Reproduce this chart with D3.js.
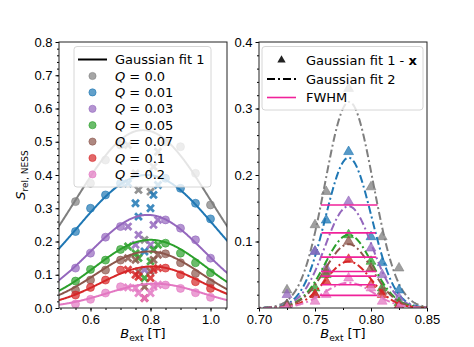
<!DOCTYPE html>
<html>
<head>
<meta charset="utf-8">
<script src="https://cdn.jsdelivr.net/npm/d3@7"></script>
<style>
  body { margin: 0; background: #fff; }
  svg { display: block; font-family: "DejaVu Sans", sans-serif; }
</style>
</head>
<body>
<div id="chart"></div>
<script>
/* Series labels and colours */
const qLabels = ["0.0", "0.01", "0.03", "0.05", "0.07", "0.1", "0.2"];
const colors = ["#7f7f7f", "#1f77b4", "#9467bd", "#2ca02c", "#8c564b", "#d62728", "#e377c2"];

/* Gaussian fit 1 parameters per Q: amplitude, centre, sigma */
const fit1Amp   = [0.535, 0.400, 0.280, 0.205, 0.170, 0.125, 0.073];
const fit1Mu    = [0.775, 0.787, 0.790, 0.800, 0.795, 0.805, 0.815];
const fit1Sigma = [0.225, 0.230, 0.190, 0.184, 0.175, 0.170, 0.160];

/* Measured points used for fit 1 (circles) */
const fitX = [0.55, 0.60, 0.65, 0.70, 0.85, 0.90, 0.95, 1.00];
const fitY = [
  [0.320, 0.375, 0.445, 0.490, 0.500, 0.485, 0.405, 0.310],
  [0.230, 0.300, 0.340, 0.375, 0.390, 0.360, 0.315, 0.268],
  [0.120, 0.165, 0.213, 0.245, 0.265, 0.240, 0.205, 0.150],
  [0.081, 0.116, 0.144, 0.176, 0.195, 0.165, 0.136, 0.106],
  [0.054, 0.084, 0.114, 0.144, 0.163, 0.136, 0.104, 0.076],
  [0.039, 0.062, 0.084, 0.114, 0.120, 0.100, 0.079, 0.059],
  [0.012, 0.026, 0.045, 0.064, 0.069, 0.059, 0.046, 0.032]
];

/* Points excluded from fit 1 (crosses) and the residual fit 1 - x (triangles) */
const exclX = [0.725, 0.75, 0.76, 0.78, 0.80, 0.81, 0.825];
const exclY = [
  [0.490, 0.405, 0.355, 0.205, 0.350, 0.425, 0.470],
  [0.375, 0.315, 0.275, 0.170, 0.300, 0.340, 0.370],
  [0.245, 0.190, 0.220, 0.115, 0.190, 0.250, 0.265],
  [0.185, 0.165, 0.150, 0.090, 0.140, 0.175, 0.190],
  [0.150, 0.145, 0.110, 0.064, 0.110, 0.145, 0.160],
  [0.115, 0.100, 0.094, 0.030, 0.090, 0.115, 0.120],
  [0.062, 0.060, 0.045, 0.030, 0.045, 0.064, 0.070]
];
const residY = [
  [0.027, 0.125, 0.175, 0.330, 0.182, 0.107, 0.060],
  [0.005, 0.085, 0.132, 0.235, 0.107, 0.068, 0.027],
  [0.020, 0.085, 0.060, 0.160, 0.090, 0.050, 0.015],
  [0.002, 0.030, 0.050, 0.110, 0.070, 0.030, 0.008],
  [0.005, 0.020, 0.055, 0.100, 0.060, 0.025, 0.004],
  [0.000, 0.020, 0.040, 0.073, 0.035, 0.020, 0.002],
  [0.000, 0.010, 0.020, 0.045, 0.030, 0.010, 0.000]
];

/* Gaussian fit 2 parameters per Q */
const fit2Amp   = [0.310, 0.226, 0.153, 0.110, 0.096, 0.070, 0.038];
const fit2Mu    = [0.7805, 0.780, 0.780, 0.780, 0.780, 0.780, 0.780];
const fit2Sigma = [0.0215, 0.0205, 0.021, 0.021, 0.021, 0.0205, 0.022];

/* Axis ticks */
const leftXTicks = [0.6, 0.8, 1.0];
const leftYTicks = [0.0, 0.1, 0.2, 0.3, 0.4, 0.5, 0.6, 0.7, 0.8];
const rightXTicks = [0.70, 0.75, 0.80, 0.85];
const rightYTicks = [0.1, 0.2, 0.3, 0.4];

const width = 474, height = 347;
const fwhmColor = "#f0229a";
const gauss = (x, a, mu, s) => a * Math.exp(-((x - mu) ** 2) / (2 * s * s));

const svg = d3.select("#chart").append("svg")
  .attr("width", width)
  .attr("height", height);

const defs = svg.append("defs");

/* Panel geometry */
const left = { x0: 59, x1: 227, y0: 42, y1: 308 };
const right = { x0: 259, x1: 427, y0: 42, y1: 308 };

const xL = d3.scaleLinear().domain([0.495, 1.055]).range([left.x0, left.x1]);
const yL = d3.scaleLinear().domain([0, 0.8]).range([left.y1, left.y0]);
const xR = d3.scaleLinear().domain([0.70, 0.85]).range([right.x0, right.x1]);
const yR = d3.scaleLinear().domain([0, 0.4]).range([right.y1, right.y0]);

[["clipL", left], ["clipR", right]].forEach(([id, p]) => {
  defs.append("clipPath").attr("id", id)
    .append("rect")
    .attr("x", p.x0).attr("y", p.y0)
    .attr("width", p.x1 - p.x0).attr("height", p.y1 - p.y0);
});

/* Filled X marker path centred on 0,0 */
const xMarker = r => {
  const t = r * 0.45;
  return `M${-r},${-r + t}L${-t},0L${-r},${r - t}L${-r + t},${r}L0,${t}L${r - t},${r}L${r},${r - t}L${t},0L${r},${-r + t}L${r - t},${-r}L0,${-t}L${-r + t},${-r}Z`;
};
const triMarker = d3.symbol().type(d3.symbolTriangle).size(42);

/* ---------- Left panel ---------- */
const gL = svg.append("g").attr("clip-path", "url(#clipL)");

const curveXL = d3.range(0.49, 1.062, 0.002);
qLabels.forEach((q, i) => {
  gL.append("path")
    .datum(curveXL)
    .attr("fill", "none")
    .attr("stroke", colors[i])
    .attr("stroke-width", 2)
    .attr("d", d3.line()
      .x(d => xL(d))
      .y(d => yL(gauss(d, fit1Amp[i], fit1Mu[i], fit1Sigma[i]))));

  gL.append("g").selectAll("circle")
    .data(fitX.map((x, j) => [x, fitY[i][j]]))
    .join("circle")
      .attr("cx", d => xL(d[0]))
      .attr("cy", d => yL(d[1]))
      .attr("r", 4)
      .attr("fill", colors[i])
      .attr("fill-opacity", 0.7)
      .attr("stroke", colors[i])
      .attr("stroke-width", 0.6);

  gL.append("g").selectAll("path")
    .data(exclX.map((x, j) => [x, exclY[i][j]]))
    .join("path")
      .attr("transform", d => `translate(${xL(d[0])},${yL(d[1])})`)
      .attr("d", xMarker(4.4))
      .attr("fill", colors[i])
      .attr("fill-opacity", 0.85);
});

/* ---------- Right panel ---------- */
const gR = svg.append("g").attr("clip-path", "url(#clipR)");

const curveXR = d3.range(0.69, 0.861, 0.0005);
qLabels.forEach((q, i) => {
  gR.append("path")
    .datum(curveXR)
    .attr("fill", "none")
    .attr("stroke", colors[i])
    .attr("stroke-width", 2)
    .attr("stroke-dasharray", "8,3,2,3")
    .attr("d", d3.line()
      .x(d => xR(d))
      .y(d => yR(gauss(d, fit2Amp[i], fit2Mu[i], fit2Sigma[i]))));

  gR.append("g").selectAll("path")
    .data(exclX.map((x, j) => [x, residY[i][j]]))
    .join("path")
      .attr("transform", d => `translate(${xR(d[0])},${yR(d[1])})`)
      .attr("d", triMarker)
      .attr("fill", colors[i])
      .attr("fill-opacity", 0.75)
      .attr("stroke", colors[i])
      .attr("stroke-width", 0.6);
});

/* FWHM lines at half the fit 2 amplitude */
gR.append("g").selectAll("line")
  .data(qLabels.map((q, i) => i))
  .join("line")
    .attr("x1", i => xR(fit2Mu[i] - 1.1774 * fit2Sigma[i]))
    .attr("x2", i => xR(fit2Mu[i] + 1.1774 * fit2Sigma[i]))
    .attr("y1", i => yR(fit2Amp[i] / 2))
    .attr("y2", i => yR(fit2Amp[i] / 2))
    .attr("stroke", fwhmColor)
    .attr("stroke-width", 1.6);

/* ---------- Axes ---------- */
const fmt1 = d3.format(".1f"), fmt2 = d3.format(".2f");

function drawAxes(p, x, y, xTicks, xMinor, yTicks, yMinor, xf) {
  svg.append("g")
    .attr("transform", `translate(0,${p.y1})`)
    .call(d3.axisBottom(x).tickValues(xMinor).tickSize(2).tickFormat(""))
    .call(g => g.select(".domain").remove());
  svg.append("g")
    .attr("transform", `translate(0,${p.y1})`)
    .call(d3.axisBottom(x).tickValues(xTicks).tickSize(3.5).tickPadding(3).tickFormat(xf))
    .call(g => g.select(".domain").remove())
    .call(g => g.selectAll("text").attr("font-size", 13).attr("fill", "#000"));
  svg.append("g")
    .attr("transform", `translate(${p.x0},0)`)
    .call(d3.axisLeft(y).tickValues(yMinor).tickSize(2).tickFormat(""))
    .call(g => g.select(".domain").remove());
  svg.append("g")
    .attr("transform", `translate(${p.x0},0)`)
    .call(d3.axisLeft(y).tickValues(yTicks).tickSize(3.5).tickPadding(3).tickFormat(fmt1))
    .call(g => g.select(".domain").remove())
    .call(g => g.selectAll("text").attr("font-size", 13).attr("fill", "#000"));
  svg.append("rect")
    .attr("x", p.x0).attr("y", p.y0)
    .attr("width", p.x1 - p.x0).attr("height", p.y1 - p.y0)
    .attr("fill", "none").attr("stroke", "#222").attr("stroke-width", 1);
}

drawAxes(left, xL, yL, leftXTicks, d3.range(0.5, 1.06, 0.05), leftYTicks, d3.range(0, 0.801, 0.02), fmt1);
drawAxes(right, xR, yR, rightXTicks, d3.range(0.7, 0.851, 0.025), rightYTicks, d3.range(0, 0.401, 0.02), fmt2);

/* Axis labels */
[left, right].forEach(p => {
  const t = svg.append("text")
    .attr("x", (p.x0 + p.x1) / 2)
    .attr("y", 338)
    .attr("text-anchor", "middle")
    .attr("font-size", 13);
  t.append("tspan").attr("font-style", "italic").text("B");
  t.append("tspan").attr("font-size", 9).attr("dy", 3).text("ext");
  t.append("tspan").attr("dy", -3).text(" [T]");
});

const yLab = svg.append("text")
  .attr("transform", `translate(25,${(left.y0 + left.y1) / 2}) rotate(-90)`)
  .attr("text-anchor", "middle")
  .attr("font-size", 13);
yLab.append("tspan").attr("font-style", "italic").text("S");
yLab.append("tspan").attr("font-size", 9).attr("dy", 3).text("rel, NESS");

/* ---------- Legends ---------- */
const legL = svg.append("g");
legL.append("rect")
  .attr("x", 74).attr("y", 46.5).attr("width", 137).attr("height", 140.5)
  .attr("rx", 3).attr("fill", "#fff").attr("fill-opacity", 0.8)
  .attr("stroke", "#ccc").attr("stroke-width", 0.8);
legL.append("line")
  .attr("x1", 78).attr("x2", 107).attr("y1", 59.5).attr("y2", 59.5)
  .attr("stroke", "#000").attr("stroke-width", 2);
legL.append("text")
  .attr("x", 115).attr("y", 64).attr("font-size", 13).text("Gaussian fit 1");
qLabels.forEach((q, i) => {
  const cy = 76 + i * 16.4;
  legL.append("circle")
    .attr("cx", 92.5).attr("cy", cy).attr("r", 3.6)
    .attr("fill", colors[i]).attr("fill-opacity", 0.7)
    .attr("stroke", colors[i]).attr("stroke-width", 0.6);
  const t = legL.append("text")
    .attr("x", 115).attr("y", cy + 4.5).attr("font-size", 13);
  t.append("tspan").attr("font-style", "italic").text("Q");
  t.append("tspan").text(" = " + q);
});

const legR = svg.append("g");
legR.append("rect")
  .attr("x", 262).attr("y", 46.5).attr("width", 161).attr("height", 63.5)
  .attr("rx", 3).attr("fill", "#fff").attr("fill-opacity", 0.8)
  .attr("stroke", "#ccc").attr("stroke-width", 0.8);
legR.append("path")
  .attr("transform", "translate(281.5,60)")
  .attr("d", d3.symbol().type(d3.symbolTriangle).size(30))
  .attr("fill", "#222");
const tr = legR.append("text").attr("x", 306).attr("y", 64.5).attr("font-size", 13);
tr.append("tspan").text("Gaussian fit 1 - ");
tr.append("tspan").attr("font-weight", "bold").text("x");
legR.append("line")
  .attr("x1", 267).attr("x2", 296).attr("y1", 79).attr("y2", 79)
  .attr("stroke", "#000").attr("stroke-width", 2)
  .attr("stroke-dasharray", "8,3,2,3");
legR.append("text").attr("x", 306).attr("y", 83.5).attr("font-size", 13).text("Gaussian fit 2");
legR.append("line")
  .attr("x1", 267).attr("x2", 296).attr("y1", 97.5).attr("y2", 97.5)
  .attr("stroke", fwhmColor).attr("stroke-width", 1.6);
legR.append("text").attr("x", 306).attr("y", 102).attr("font-size", 13).text("FWHM");
</script>
</body>
</html>
